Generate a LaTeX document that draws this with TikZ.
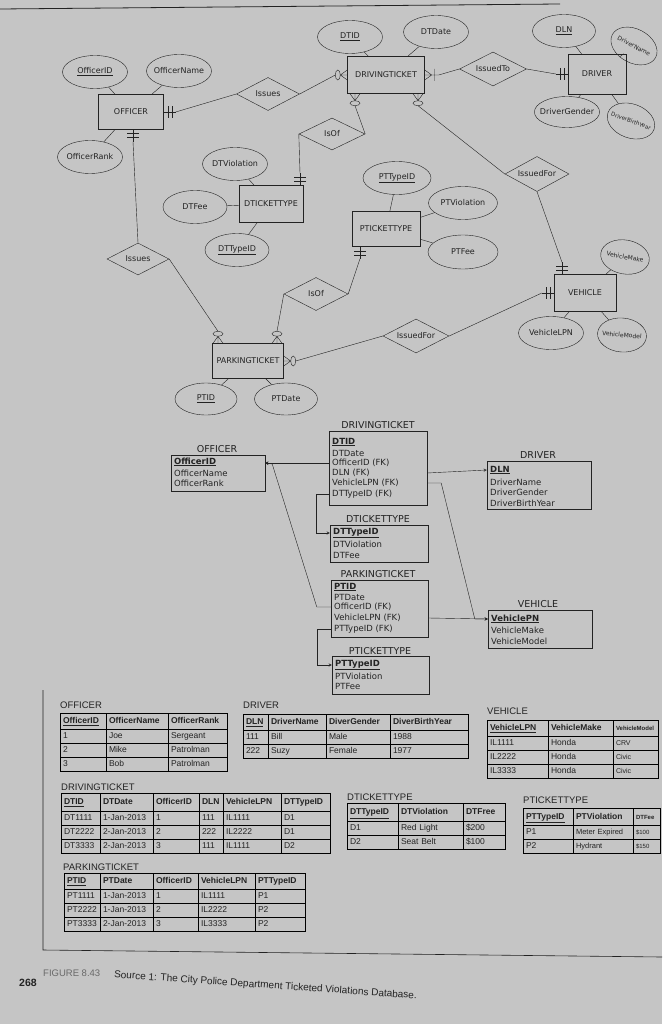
\documentclass[tikz,border=0pt]{standalone}
\usepackage{fontspec}
\setmainfont{DejaVu Sans}
\newfontfamily\tabfont{Liberation Sans}
\usetikzlibrary{shapes.geometric,matrix,calc}

\definecolor{ink}{RGB}{35,35,35}
\definecolor{paper}{RGB}{197,197,197}
\definecolor{figgray}{RGB}{105,105,105}

\begin{document}
\begin{tikzpicture}[x=1pt,y=-1pt,>=stealth,color=ink,
  erfont/.style={font=\fontsize{8}{9.6}\selectfont},
  entity/.style={draw,rectangle,inner sep=1pt,erfont},
  attr/.style={draw,ellipse,inner xsep=-4pt,inner ysep=0pt,minimum width=65pt,minimum height=33pt,erfont},
  smallattr/.style={attr,minimum width=49pt,minimum height=34pt,font=\fontsize{6}{7}\selectfont},
  rel/.style={draw,diamond,aspect=2,inner sep=0pt,minimum width=64pt,minimum height=34pt,erfont},
  one/.pic={\draw (0,0) -- (-12,0) (-4,-6) -- (-4,6) (-8,-6) -- (-8,6);
    \coordinate (-end) at (-12,0);},
  manyopt/.pic={\draw (0,-5) -- (-7,0) -- (0,5) (0,0) -- (-7,0);
    \draw (-9.5,0) ellipse [x radius=2.5pt,y radius=5pt];
    \coordinate (-end) at (-12,0);},
  manyone/.pic={\draw (0,-5) -- (-7,0) -- (0,5) (0,0) -- (-14,0) (-10,-6) -- (-10,6);
    \coordinate (-end) at (-14,0);},
  sbox/.style={draw,rectangle,inner sep=0pt},
  stitle/.style={inner sep=0pt,font=\fontsize{9.5}{11}\selectfont},
  srow/.style={anchor=west,inner sep=0pt,font=\fontsize{8.5}{10}\selectfont},
  ttitle/.style={anchor=west,inner sep=0pt,font=\tabfont\fontsize{9.5}{11}\selectfont},
  tab/.style={matrix of nodes,nodes in empty cells,anchor=north west,inner sep=0pt,
    column sep=-0.6pt,row sep=-0.6pt,
    nodes={draw,line width=0.6pt,inner xsep=2.5pt,inner ysep=0pt,minimum height=14pt,
      text height=6.5pt,text depth=2pt,align=left,font=\tabfont\fontsize{8.5}{10}\selectfont},
    row 1/.style={nodes={minimum height=16pt,font=\tabfont\bfseries\fontsize{8.5}{10}\selectfont}}},
]
\fill[paper] (0,0) rectangle (662,1024);
\useasboundingbox (0,0) rectangle (662,1024);
\draw[line width=0.8pt] (0,9) -- (560,4);
\draw[line width=0.6pt] (43,690) -- (43,950) -- (662,957);

\node[entity,minimum width=65pt,minimum height=35pt] (off) at (131,112) {OFFICER};
\node[entity,minimum width=77pt,minimum height=37pt] (dt) at (386,75) {DRIVINGTICKET};
\node[entity,minimum width=58pt,minimum height=40pt] (drv) at (597,74) {DRIVER};
\node[entity,minimum width=64pt,minimum height=37pt] (dtt) at (271,204) {DTICKETTYPE};
\node[entity,minimum width=68pt,minimum height=35pt] (ptt) at (386,229) {PTICKETTYPE};
\node[entity,minimum width=71pt,minimum height=35pt] (pkt) at (248,361) {PARKINGTICKET};
\node[entity,minimum width=62pt,minimum height=37pt] (veh) at (585,293) {VEHICLE};

\node[attr] (offid) at (95,72) {\underline{OfficerID}};
\node[attr] (offname) at (179,71) {OfficerName};
\node[attr] (offrank) at (90,157) {OfficerRank};
\node[attr] (dtid) at (350,37) {\underline{DTID}};
\node[attr] (dtdate) at (436,32) {DTDate};
\node[attr,minimum width=63pt] (dln) at (564,31) {\underline{DLN}};
\node[smallattr,rotate=-28] (drvname) at (634,46) {DriverName};
\node[attr,minimum width=63pt,minimum height=31pt] (drvgender) at (567,112) {DriverGender};
\node[smallattr,rotate=-20,inner xsep=-7pt,font=\fontsize{5.5}{6.5}\selectfont] (drvbirth) at (631,121) {DriverBirthYear};
\node[attr] (dtviol) at (235,164) {DTViolation};
\node[attr,minimum width=64pt] (dtfee) at (195,207) {DTFee};
\node[attr,minimum width=64pt] (dttid) at (237,250) {\underline{DTTypeID}};
\node[attr,minimum width=68pt] (pttid) at (397,178) {\underline{PTTypeID}};
\node[attr,minimum width=69pt] (ptviol) at (463,203) {PTViolation};
\node[attr,minimum width=70pt,minimum height=34pt] (ptfee) at (463,252) {PTFee};
\node[attr,minimum width=62pt,minimum height=32pt] (ptid) at (206,399) {\underline{PTID}};
\node[attr,minimum width=63pt,minimum height=32pt] (ptdate) at (286,399) {PTDate};
\node[smallattr,rotate=-10] (vmake) at (625,257) {VehicleMake};
\node[attr] (vlpn) at (551,333) {VehicleLPN};
\node[smallattr,rotate=-5] (vmodel) at (622,335) {VehicleModel};

\foreach \a/\e in {offid/off,offname/off,offrank/off,dtid/dt,dtdate/dt,dln/drv,drvname/drv,
  drvgender/drv,drvbirth/drv,dtviol/dtt,dtfee/dtt,dttid/dtt,pttid/ptt,ptviol/ptt,ptfee/ptt,
  ptid/pkt,ptdate/pkt,vmake/veh,vlpn/veh,vmodel/veh}
  \draw (\a) -- (\e);

\node[rel,minimum width=63pt,minimum height=33pt] (iss1) at (268,94) {Issues};
\node[rel,minimum width=66pt,minimum height=32pt] (iso1) at (332,134) {IsOf};
\node[rel,minimum width=67pt] (ito) at (493,69) {IssuedTo};
\node[rel,minimum height=35pt] (ifor1) at (537,174) {IssuedFor};
\node[rel,minimum width=62pt,minimum height=32pt] (iss2) at (138,259) {Issues};
\node[rel,minimum height=33pt] (iso2) at (316,294) {IsOf};
\node[rel,minimum width=66pt] (ifor2) at (416,336) {IssuedFor};

\pic[rotate=180] (ofe) at (off.east) {one};
\pic (dtw) at (dt.west) {manyopt};
\draw (ofe-end) -- (iss1.west);
\draw (iss1.east) -- (dtw-end);

\pic[rotate=90] (ofs) at ($(off.south)+(2,0)$) {one};
\pic[rotate=-90] (pkn1) at ($(pkt.north)+(-30,0)$) {manyopt};
\draw (ofs-end) -- (iss2.north);
\draw (iss2.east) -- (pkn1-end);

\pic[rotate=90] (dts1) at ($(dt.south)+(-31,0)$) {manyopt};
\pic[rotate=-90] (dttn) at ($(dtt.north)+(29,0)$) {one};
\draw (dts1-end) -- (iso1.east);
\draw (iso1.west) -- (dttn-end);

\pic[rotate=180] (dte) at (dt.east) {manyone};
\pic (drw) at (drv.west) {one};
\draw (dte-end) -- (ito.west);
\draw (ito.east) -- (drw-end);

\pic[rotate=90] (dts2) at ($(dt.south)+(32,0)$) {manyopt};
\pic[rotate=-90] (vhn) at ($(veh.north)+(-23,0)$) {one};
\draw (dts2-end) -- (ifor1.west);
\draw (ifor1.south) -- (vhn-end);

\pic[rotate=90] (pts) at ($(ptt.south)+(-26,0)$) {one};
\pic[rotate=-90] (pkn2) at ($(pkt.north)+(29,0)$) {manyopt};
\draw (pts-end) -- (iso2.east);
\draw (iso2.west) -- (pkn2-end);

\pic[rotate=180] (pke) at (pkt.east) {manyopt};
\pic (vhw) at (veh.west) {one};
\draw (pke-end) -- (ifor2.west);
\draw (ifor2.east) -- (vhw-end);

\node[sbox,minimum width=94pt,minimum height=36pt] (soff) at (218,473) {};
\node[stitle] (soff-t) at (217,449) {OFFICER};
\node[srow] (offr1) at (174,462) {\textbf{\underline{OfficerID}}};
\node[srow] (offr2) at (174,473) {OfficerName};
\node[srow] (offr3) at (174,483) {OfficerRank};

\node[sbox,minimum width=98pt,minimum height=74pt] (sdt) at (378,468) {};
\node[stitle] (sdt-t) at (378,425) {DRIVINGTICKET};
\node[srow] (dtr1) at (332,442) {\textbf{\underline{DTID}}};
\node[srow] (dtr2) at (332,453) {DTDate};
\node[srow] (dtr3) at (332,463) {OfficerID (FK)};
\node[srow] (dtr4) at (332,473) {DLN (FK)};
\node[srow] (dtr5) at (332,483) {VehicleLPN (FK)};
\node[srow] (dtr6) at (332,494) {DTTypeID (FK)};

\node[sbox,minimum width=98pt,minimum height=37pt] (sdtt) at (379,543.5) {};
\node[stitle] (sdtt-t) at (378,519) {DTICKETTYPE};
\node[srow] (dttr1) at (333,533) {\textbf{\underline{DTTypeID}}};
\node[srow] (dttr2) at (333,544) {DTViolation};
\node[srow] (dttr3) at (333,555) {DTFee};

\node[sbox,minimum width=97pt,minimum height=57pt] (spkt) at (379.5,608.5) {};
\node[stitle] (spkt-t) at (378,574) {PARKINGTICKET};
\node[srow] (pkr1) at (334,587) {\textbf{\underline{PTID}}};
\node[srow] (pkr2) at (334,597) {PTDate};
\node[srow] (pkr3) at (334,607) {OfficerID (FK)};
\node[srow] (pkr4) at (334,618) {VehicleLPN (FK)};
\node[srow] (pkr5) at (334,629) {PTTypeID (FK)};

\node[sbox,minimum width=97pt,minimum height=38pt] (sptt) at (380.5,675) {};
\node[stitle] (sptt-t) at (380,651) {PTICKETTYPE};
\node[srow] (pttr1) at (335,665) {\textbf{\underline{PTTypeID}}};
\node[srow] (pttr2) at (335,676) {PTViolation};
\node[srow] (pttr3) at (335,686) {PTFee};

\node[sbox,minimum width=104pt,minimum height=48pt] (sdrv) at (539,485) {};
\node[stitle] (sdrv-t) at (538,455) {DRIVER};
\node[srow] (drvr1) at (490,470) {\textbf{\underline{DLN}}};
\node[srow] (drvr2) at (490,482) {DriverName};
\node[srow] (drvr3) at (490,492) {DriverGender};
\node[srow] (drvr4) at (490,503) {DriverBirthYear};

\node[sbox,minimum width=104pt,minimum height=38pt] (sveh) at (540,629) {};
\node[stitle] (sveh-t) at (538,604) {VEHICLE};
\node[srow] (vehr1) at (491,619) {\textbf{\underline{VehiclePN}}};
\node[srow] (vehr2) at (491,630) {VehicleMake};
\node[srow] (vehr3) at (491,641) {VehicleModel};

\draw[->] (sdt.west |- dtr3) -- (soff.east |- dtr3);
\draw[->] (spkt.west |- pkr3) -- ++(-14,0) -- ($(soff.east |- dtr3)+(7,1)$) -- (soff.east |- dtr3);
\draw[->] (sdt.west |- dtr6) -- ++(-13,0) |- (sdtt.west |- dttr1);
\draw[->] (spkt.west |- pkr5) -- ++(-14,0) |- (sptt.west |- pttr1);
\draw[->] (sdt.east |- dtr4) -- (sdrv.west |- drvr1);
\draw[->] (sdt.east |- dtr5) -- ++(14,0) -- ($(sveh.west |- vehr1)+(-13,0)$) -- (sveh.west |- vehr1);
\draw[->] (spkt.east |- pkr4) -- (sveh.west |- vehr1);

\node[ttitle] (toff-t) at (60,705) {OFFICER};
\matrix[tab,column 1/.style={nodes={text width=41pt}},column 2/.style={nodes={text width=57pt}},
  column 3/.style={nodes={text width=54pt}}] (toff) at (60,713) {
  \underline{OfficerID} & OfficerName & OfficerRank \\
  1 & Joe & Sergeant \\
  2 & Mike & Patrolman \\
  3 & Bob & Patrolman \\
};

\node[ttitle] (tdrv-t) at (243,705) {DRIVER};
\matrix[tab,column 1/.style={nodes={text width=20pt}},column 2/.style={nodes={text width=53pt}},
  column 3/.style={nodes={text width=59pt}},column 4/.style={nodes={text width=73pt}}] (tdrv) at (243,714) {
  \underline{DLN} & DriverName & DiverGender & DiverBirthYear \\
  111 & Bill & Male & 1988 \\
  222 & Suzy & Female & 1977 \\
};

\node[ttitle] (tveh-t) at (487,711) {VEHICLE};
\matrix[tab,column 1/.style={nodes={text width=56pt}},column 2/.style={nodes={text width=60pt}},
  column 3/.style={nodes={text width=40pt}}] (tveh) at (487,720) {
  \underline{VehicleLPN} & VehicleMake & |[font=\tabfont\bfseries\fontsize{6}{7}\selectfont]| VehicleModel \\
  IL1111 & Honda & |[font=\tabfont\fontsize{7}{8}\selectfont]| CRV \\
  IL2222 & Honda & |[font=\tabfont\fontsize{7}{8}\selectfont]| Civic \\
  IL3333 & Honda & |[font=\tabfont\fontsize{7}{8}\selectfont]| Civic \\
};

\node[ttitle] (tdt-t) at (61,787) {DRIVINGTICKET};
\matrix[tab,row 1/.append style={nodes={minimum height=18pt}},
  column 1/.style={nodes={text width=34pt}},column 2/.style={nodes={text width=48pt}},
  column 3/.style={nodes={text width=41pt}},column 4/.style={nodes={text width=19pt}},
  column 5/.style={nodes={text width=53pt}},column 6/.style={nodes={text width=44pt}}] (tdt) at (61,793) {
  \underline{DTID} & DTDate & OfficerID & DLN & VehicleLPN & DTTypeID \\
  DT1111 & 1-Jan-2013 & 1 & 111 & IL1111 & D1 \\
  DT2222 & 2-Jan-2013 & 2 & 222 & IL2222 & D1 \\
  DT3333 & 2-Jan-2013 & 3 & 111 & IL1111 & D2 \\
};

\node[ttitle] (tdtt-t) at (347,797) {DTICKETTYPE};
\matrix[tab,row 1/.append style={nodes={minimum height=18pt}},
  column 1/.style={nodes={text width=46pt}},column 2/.style={nodes={text width=60pt}},
  column 3/.style={nodes={text width=37pt}}] (tdtt) at (347,803) {
  \underline{DTTypeID} & DTViolation & DTFree \\
  D1 & Red Light & \$200 \\
  D2 & Seat Belt & \$100 \\
};

\node[ttitle] (tptt-t) at (523,800) {PTICKETTYPE};
\matrix[tab,row 1/.append style={nodes={minimum height=17pt}},
  column 1/.style={nodes={text width=45pt}},column 2/.style={nodes={text width=55pt}},
  column 3/.style={nodes={text width=22pt}}] (tptt) at (523,808) {
  \underline{PTTypeID} & PTViolation & |[font=\tabfont\bfseries\fontsize{6}{7}\selectfont]| DTFee \\
  P1 & |[font=\tabfont\fontsize{7.5}{9}\selectfont]| Meter Expired & |[font=\tabfont\fontsize{6}{7}\selectfont]| \$100 \\
  P2 & |[font=\tabfont\fontsize{7.5}{9}\selectfont]| Hydrant & |[font=\tabfont\fontsize{6}{7}\selectfont]| \$150 \\
};

\node[ttitle] (tpkt-t) at (63,867) {PARKINGTICKET};
\matrix[tab,column 1/.style={nodes={text width=31pt}},column 2/.style={nodes={text width=48pt}},
  column 3/.style={nodes={text width=40pt}},column 4/.style={nodes={text width=52pt}},
  column 5/.style={nodes={text width=45pt}}] (tpkt) at (64,873) {
  \underline{PTID} & PTDate & OfficerID & VehicleLPN & PTTypeID \\
  PT1111 & 1-Jan-2013 & 1 & IL1111 & P1 \\
  PT2222 & 1-Jan-2013 & 2 & IL2222 & P2 \\
  PT3333 & 2-Jan-2013 & 3 & IL3333 & P2 \\
};

\node[anchor=west,inner sep=0pt,font=\tabfont\bfseries\fontsize{10.5}{12}\selectfont] (pg) at (19,983) {268};
\node[anchor=west,inner sep=0pt,text=figgray,font=\tabfont\fontsize{9.5}{11}\selectfont] (fig) at (43,973) {FIGURE 8.43};
\node[anchor=west,inner sep=0pt,rotate=-4,font=\tabfont\fontsize{10}{12}\selectfont] (src) at (114,975) {Source 1: The City Police Department Ticketed Violations Database.};
\end{tikzpicture}
\end{document}
